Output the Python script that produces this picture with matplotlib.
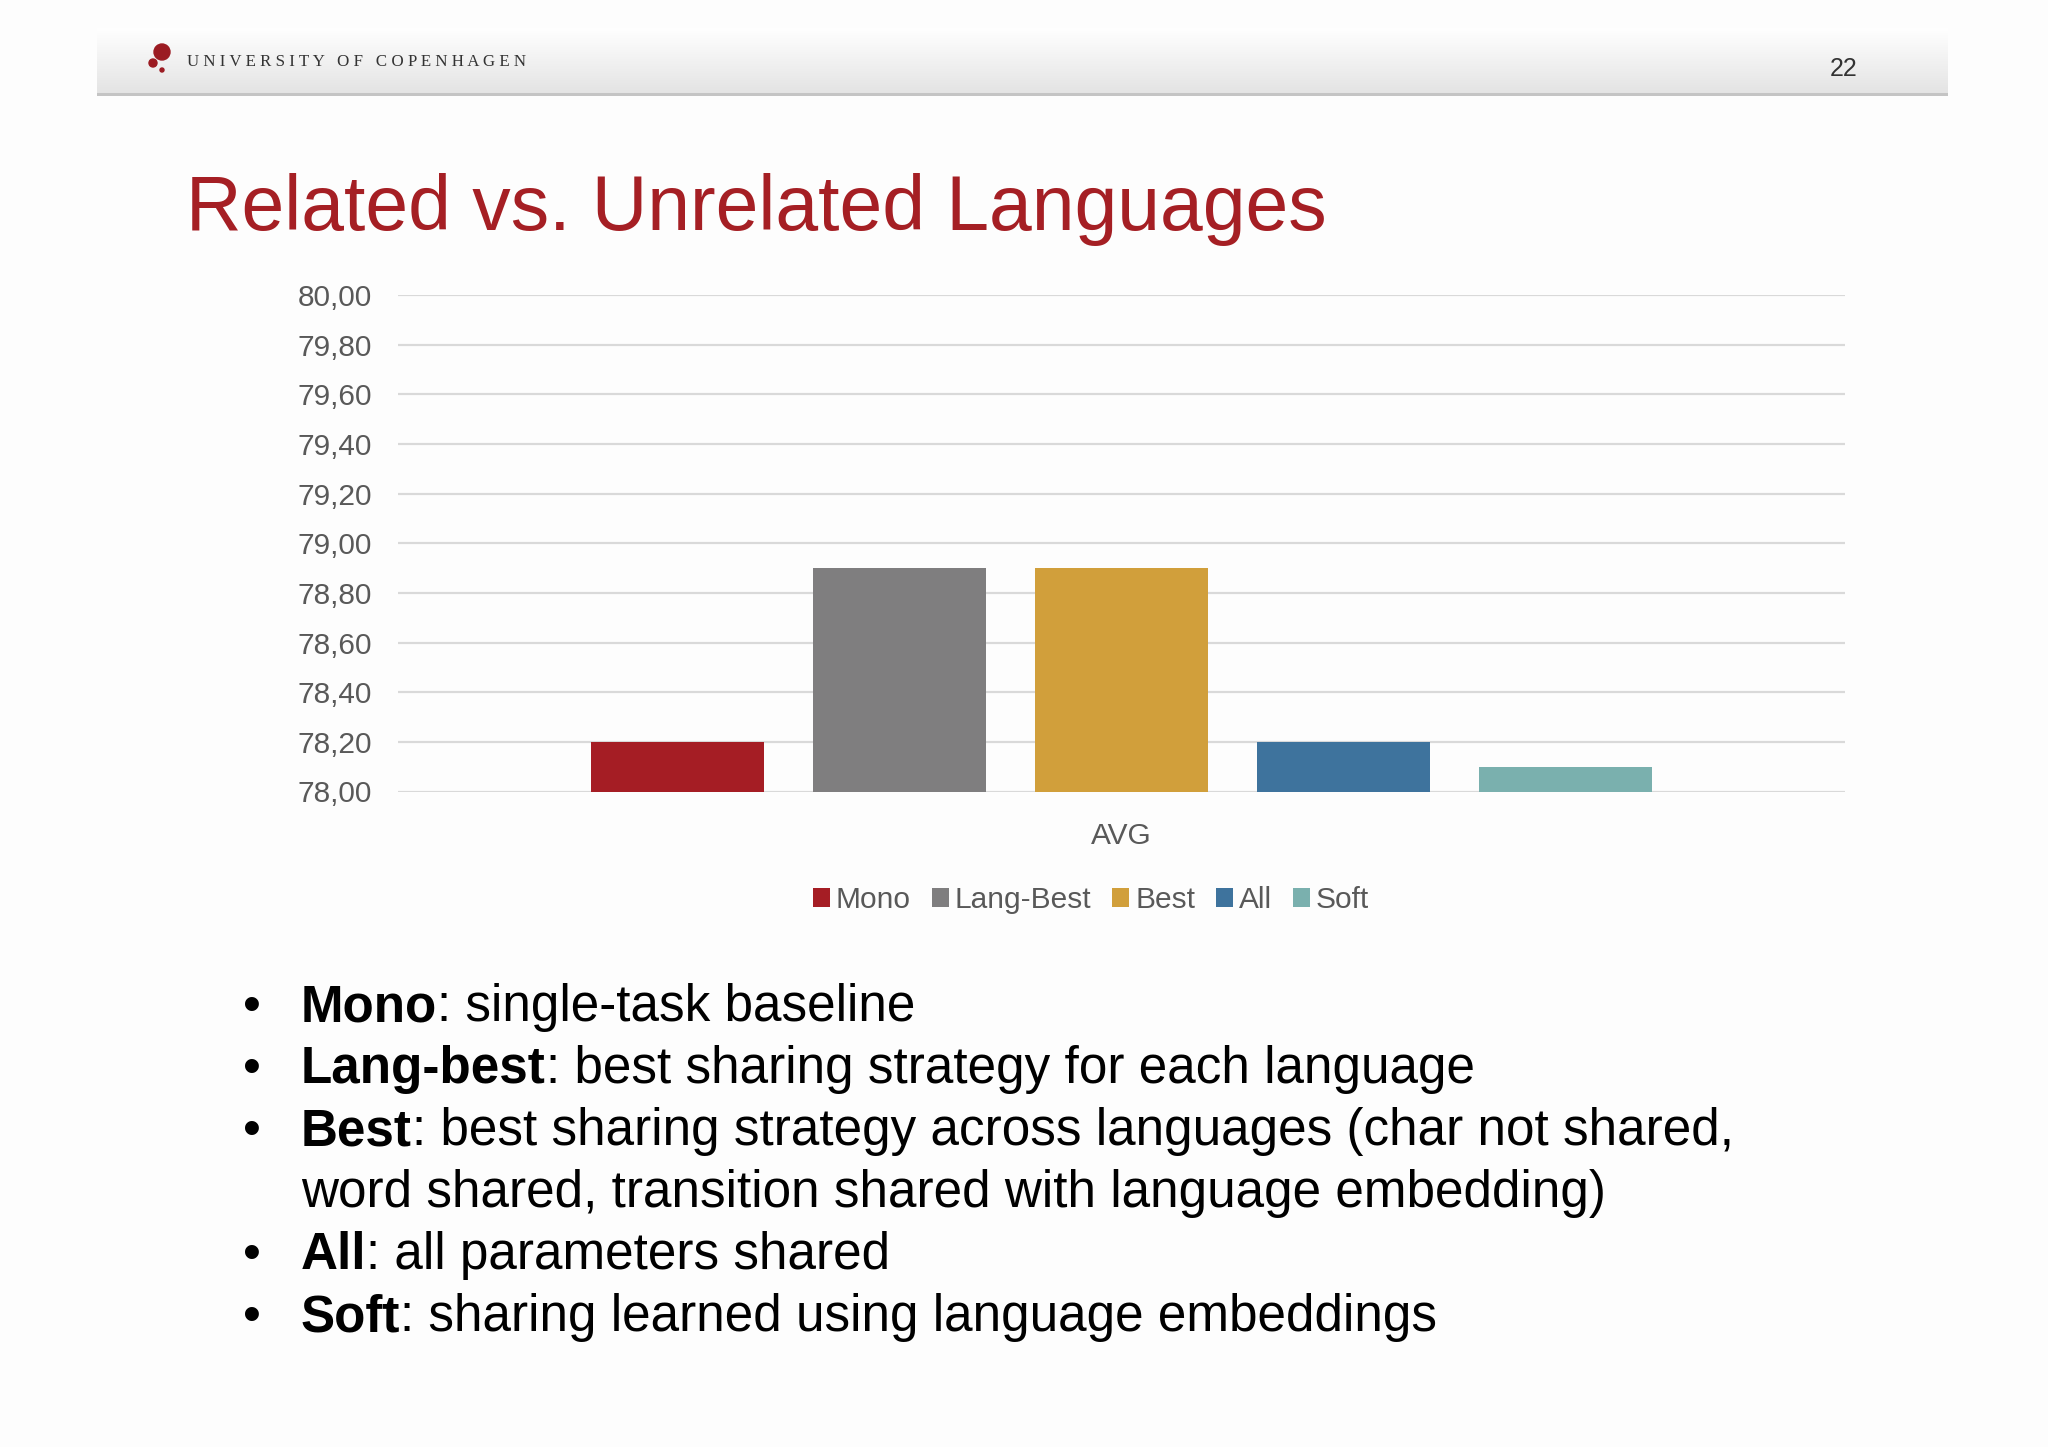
import numpy as np
import matplotlib
matplotlib.use("Agg")
import matplotlib.pyplot as plt
from matplotlib.patches import Circle, Rectangle

# ---- data ----
series = ["Mono", "Lang-Best", "Best", "All", "Soft"]
values = [78.20, 78.90, 78.90, 78.20, 78.10]
colors = ["#A51D24", "#7F7E7F", "#D19F3B", "#3E739D", "#7AB0AE"]
category = ["AVG"]
yticks = [78.00, 78.20, 78.40, 78.60, 78.80, 79.00, 79.20, 79.40, 79.60, 79.80, 80.00]
ytick_labels = [f"{v:.2f}".replace(".", ",") for v in yticks]

title = "Related vs. Unrelated Languages"
bullets = [
    ("Mono", ": single-task baseline"),
    ("Lang-best", ": best sharing strategy for each language"),
    ("Best", ": best sharing strategy across languages (char not shared,"),
    (None, "word shared, transition shared with language embedding)"),
    ("All", ": all parameters shared"),
    ("Soft", ": sharing learned using language embeddings"),
]

W, H = 2048, 1447
plt.rcParams["font.family"] = ["Liberation Sans", "DejaVu Sans"]
fig = plt.figure(figsize=(W / 100, H / 100), dpi=100)
fig.patch.set_facecolor("#FDFDFD")

# background axes in pixel coordinates
bg = fig.add_axes([0, 0, 1, 1])
bg.set_xlim(0, W)
bg.set_ylim(H, 0)
bg.axis("off")

# header bar gradient
grad = np.linspace(0, 1, 100).reshape(-1, 1)
top = np.array([1.0, 1.0, 1.0])
bot = np.array([0.89, 0.89, 0.89])
img = top + (bot - top) * grad
img = np.repeat(img[:, None, :], 2, axis=1)
bg.imshow(img, extent=[97, 1948, 95, 28], aspect="auto", zorder=1)
bg.add_patch(Rectangle((97, 93), 1851, 3, color="#C4C4C4", lw=0, zorder=2))

# logo
bg.add_patch(Circle((162, 52), 8, color="#9B1B22", zorder=3))
bg.add_patch(Circle((153, 63), 4, color="#9B1B22", zorder=3))
bg.add_patch(Circle((162, 70), 2, color="#9B1B22", zorder=3))
bg.text(187, 62, "U N I V E R S I T Y   O F   C O P E N H A G E N", fontsize=12.2,
        family=["Liberation Serif", "DejaVu Serif"], color="#333333",
        va="center", ha="left", zorder=3)
bg.text(1844, 69, "22", fontsize=18, color="#333333", va="center", ha="center", zorder=3)

# title
bg.text(186, 230, title, fontsize=55.4, color="#A51F24", va="baseline", ha="left")

# bullets
renderer = fig.canvas.get_renderer()
base0 = 1021
step = 62
fs = 36.9
for i, (b, rest) in enumerate(bullets):
    y = base0 + i * step
    x = 301
    if b is not None:
        bg.text(243, y, "\u2022", fontsize=fs, color="black", va="baseline", ha="left")
        t = bg.text(x, y, b, fontsize=fs, fontweight="bold", color="black",
                    va="baseline", ha="left")
        bb = t.get_window_extent(renderer=renderer)
        x = bb.x1
    bg.text(x, y, rest, fontsize=fs, color="black", va="baseline", ha="left")

# chart axes
left, right = 398 / W, 1845 / W
ytop, ybot = 1 - 295 / H, 1 - 791.5 / H
ax = fig.add_axes([left, ybot, right - left, ytop - ybot])
ax.set_facecolor("none")
n = len(series)
spacing = 0.1534
width = 0.120
x0 = np.arange(len(category))
handles = []
for i, (s, v, c) in enumerate(zip(series, values, colors)):
    h = ax.bar(x0 + (i - (n - 1) / 2) * spacing, [v - yticks[0]], bottom=yticks[0],
               width=width, color=c, label=s, zorder=3)
    handles.append(h)
ax.set_xlim(-0.5, 0.5)
ax.set_ylim(yticks[0], yticks[-1])
ax.set_yticks(yticks)
ax.set_yticklabels(ytick_labels)
ax.set_xticks(x0)
ax.set_xticklabels(category)
ax.tick_params(axis="both", length=0, labelsize=21.5, labelcolor="#595959")
ax.tick_params(axis="y", pad=19)
ax.tick_params(axis="x", pad=22)
for sp in ax.spines.values():
    sp.set_visible(False)
ax.yaxis.grid(True, color="#D9D9D9", lw=1.6, zorder=0)
ax.set_axisbelow(True)

leg = fig.legend(handles=handles, labels=series, loc="center",
                 bbox_to_anchor=(1091 / W, 1 - 900 / H), ncol=n, frameon=False,
                 fontsize=21.5, handlelength=0.57, handleheight=0.57,
                 handletextpad=0.2, columnspacing=0.7, borderaxespad=0)
for t in leg.get_texts():
    t.set_color("#595959")

fig.savefig("out.png", dpi=100, facecolor=fig.get_facecolor())
